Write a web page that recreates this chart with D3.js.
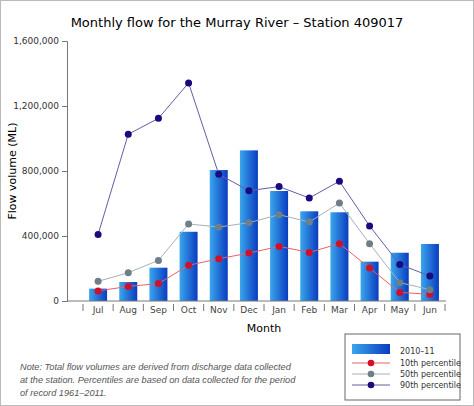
<!DOCTYPE html>
<html><head><meta charset="utf-8">
<script src="https://cdn.jsdelivr.net/npm/d3@7.9.0/dist/d3.min.js"></script>
<style>body{margin:0;background:#fff}</style></head>
<body><svg id="chart" width="474" height="406"></svg>
<script>
const months = ['Jul','Aug','Sep','Oct','Nov','Dec','Jan','Feb','Mar','Apr','May','Jun'];
const flow2010 = [76000,117000,205000,426000,806000,927000,677000,552000,546000,242000,297000,351000];
const p10 = [62000,90000,107000,220000,260000,295000,336000,299000,353000,203000,53000,41000];
const p50 = [121000,174000,250000,474000,455000,482000,531000,486000,603000,353000,113000,70000];
const p90 = [410000,1026000,1124000,1342000,780000,679000,704000,634000,737000,462000,224000,154000];
const yTicks = [0,400000,800000,1200000,1600000];
const series = [
  {name:'10th percentile', values:p10, line:'#e8606a', dot:'#d0102a'},
  {name:'50th percentile', values:p50, line:'#a8b0b8', dot:'#6e7f88'},
  {name:'90th percentile', values:p90, line:'#6a5aa8', dot:'#1a0a80'}
];

const svg = d3.select('#chart');
const font = 'DejaVu Sans, Verdana, sans-serif';
svg.append('rect').attr('x',0.5).attr('y',0.5).attr('width',473).attr('height',405)
  .attr('fill','#fff').attr('stroke','#bbb');

const x = d3.scaleBand().domain(months).range([83,445]).paddingInner(0.4).paddingOuter(0.2);
const xc = d3.scaleBand().domain(months).range([83,445]);
const y = d3.scaleLinear().domain([0,1600000]).range([301,41]);

const grad = svg.append('defs').append('linearGradient').attr('id','bar');
grad.append('stop').attr('offset','0%').attr('stop-color','#3aa6ec');
grad.append('stop').attr('offset','100%').attr('stop-color','#0a3cc0');

svg.append('text').attr('x',237).attr('y',27).attr('text-anchor','middle')
  .attr('font-family',font).attr('font-size',13).text('Monthly flow for the Murray River – Station 409017');

// y axis
const ya = svg.append('g').attr('transform','translate(67,0)')
  .call(d3.axisLeft(y).tickValues(yTicks).tickFormat(d3.format(',')).tickSize(5));
ya.select('.domain').attr('stroke','#777');
ya.selectAll('line').attr('stroke','#777');
ya.selectAll('text').attr('font-family',font).attr('font-size',9).attr('fill','#333');

svg.append('text').attr('transform','translate(16,171) rotate(-90)').attr('text-anchor','middle')
  .attr('font-family',font).attr('font-size',11).text('Flow volume (ML)');

// bars
svg.append('g').selectAll('rect').data(flow2010).join('rect')
  .attr('x',(d,i)=>xc(months[i])+xc.bandwidth()/2-9).attr('width',18)
  .attr('y',d=>y(d)).attr('height',d=>y(0)-y(d)).attr('fill','url(#bar)');

// x axis
svg.append('line').attr('x1',67).attr('x2',446).attr('y1',301).attr('y2',301).attr('stroke','#777');
const xt = months.map(m=>xc(m)).concat([445]);
svg.append('g').selectAll('line').data(xt).join('line')
  .attr('x1',d=>d).attr('x2',d=>d).attr('y1',304).attr('y2',311).attr('stroke','#777');
svg.append('g').selectAll('text').data(months).join('text')
  .attr('x',d=>xc(d)+xc.bandwidth()/2).attr('y',313).attr('text-anchor','middle')
  .attr('font-family',font).attr('font-size',9).attr('fill','#444').text(d=>d);
svg.append('text').attr('x',264).attr('y',332).attr('text-anchor','middle')
  .attr('font-family',font).attr('font-size',11).text('Month');

// lines
const cx = i => xc(months[i])+xc.bandwidth()/2;
const line = d3.line().x((d,i)=>cx(i)).y(d=>y(d));
series.forEach(s=>{
  svg.append('path').attr('d',line(s.values)).attr('fill','none').attr('stroke',s.line).attr('stroke-width',1);
  svg.append('g').selectAll('circle').data(s.values).join('circle')
    .attr('cx',(d,i)=>cx(i)).attr('cy',d=>y(d)).attr('r',3.5).attr('fill',s.dot);
});

// note
const note = ['Note: Total flow volumes are derived from discharge data collected',
  'at the station. Percentiles are based on data collected for the period',
  'of record 1961–2011.'];
svg.append('g').selectAll('text').data(note).join('text')
  .attr('x',20).attr('y',(d,i)=>370+i*13).attr('font-family','Liberation Sans, Arial, sans-serif')
  .attr('font-style','italic').attr('font-size',9.2).attr('fill','#555').text(d=>d);

// legend
const lg = svg.append('g').attr('transform','translate(345,334)');
lg.append('rect').attr('width',115).attr('height',66).attr('fill','#fff').attr('stroke','#666');
lg.append('rect').attr('x',7).attr('y',10).attr('width',38).attr('height',10).attr('fill','url(#bar)');
lg.append('text').attr('x',55).attr('y',20).attr('font-family',font).attr('font-size',8).attr('fill','#333').text('2010–11');
series.forEach((s,i)=>{
  const yy = 29+i*11;
  lg.append('line').attr('x1',7).attr('x2',45).attr('y1',yy).attr('y2',yy).attr('stroke',s.line);
  lg.append('circle').attr('cx',26).attr('cy',yy).attr('r',3.3).attr('fill',s.dot);
  lg.append('text').attr('x',55).attr('y',yy+3).attr('font-family',font).attr('font-size',8).attr('fill','#333').text(s.name);
});
</script></body></html>
